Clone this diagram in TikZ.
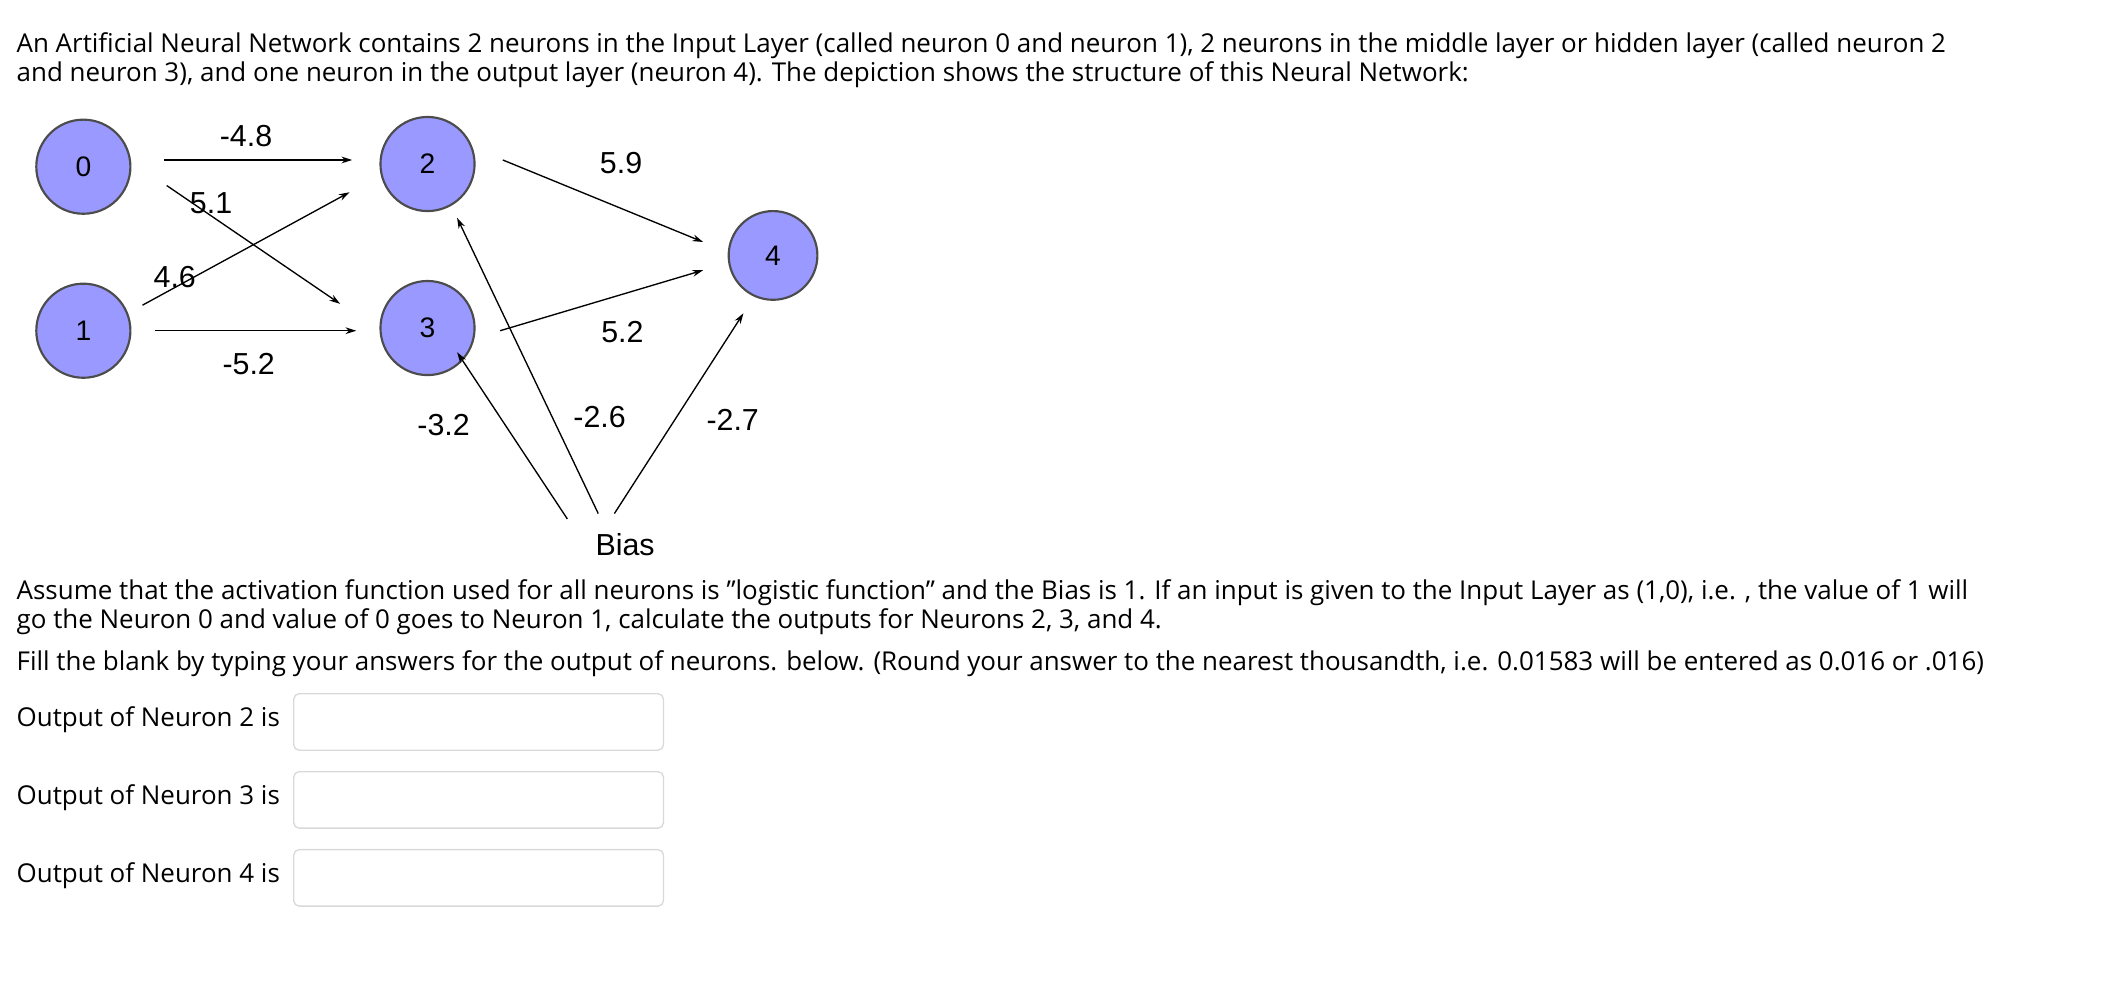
\documentclass[tikz,border=0pt]{standalone}
\usepackage{fontspec}
\setmainfont{Open Sans}
\newfontfamily\arial{Liberation Sans}
\usetikzlibrary{arrows.meta}
\begin{document}
\begin{tikzpicture}[x=0.5pt,y=-0.5pt,
  neuron/.style={circle,draw=black!70,line width=0.8pt,fill={rgb,255:red,153;green,153;blue,255},minimum size=35pt,inner sep=0pt,font=\arial\fontsize{10.5}{12}\selectfont},
  wire/.style={line width=0.5pt,-{Stealth[length=4pt,width=2.5pt]}},
  wlab/.style={font=\arial\fontsize{11.3}{13}\selectfont,inner sep=0pt},
  txt/.style={anchor=west,font=\fontsize{9.65}{10.6}\selectfont,inner sep=0pt,align=left},
  field/.style={draw=black!15,rounded corners=2pt,line width=0.5pt,minimum width=137.5pt,minimum height=21pt,anchor=west}]
\useasboundingbox (0,0) rectangle (1568,738);
\node[txt,anchor=north west] (t1) at (12,24) {An Artificial Neural Network contains 2 neurons in the Input Layer (called neuron 0 and neuron 1), 2 neurons in the middle layer or hidden layer (called neuron 2\\and neuron 3), and one neuron in the output layer (neuron 4). The depiction shows the structure of this Neural Network:};
\node[neuron] (n0) at (62,124) {0};
\node[neuron] (n1) at (62,246) {1};
\node[neuron] (n2) at (318,122) {2};
\node[neuron] (n3) at (318,244) {3};
\node[neuron,minimum size=33pt] (n4) at (575,190) {4};
\coordinate (a0) at (122,119); \coordinate (b0) at (262,119);
\coordinate (a1) at (115,246); \coordinate (b1) at (265,246);
\coordinate (a2) at (124,138); \coordinate (b2) at (253,226);
\coordinate (a3) at (106,227); \coordinate (b3) at (260,143);
\coordinate (a4) at (374,119); \coordinate (b4) at (523,180);
\coordinate (a5) at (372,246); \coordinate (b5) at (523,201);
\coordinate (c1) at (422,386); \coordinate (d1) at (340,262);
\coordinate (c2) at (445,382); \coordinate (d2) at (340,162);
\coordinate (c3) at (457,382); \coordinate (d3) at (553,233);
\draw[wire] (a0)--(b0); \draw[wire] (a1)--(b1);
\draw[wire] (a2)--(b2); \draw[wire] (a3)--(b3);
\draw[wire] (a4)--(b4); \draw[wire] (a5)--(b5);
\draw[wire] (c1)--(d1); \draw[wire] (c2)--(d2); \draw[wire] (c3)--(d3);
\node[wlab] (l1) at (183,101) {-4.8};
\node[wlab] (l2) at (157,151) {5.1};
\node[wlab] (l3) at (130,206) {4.6};
\node[wlab] (l4) at (185,271) {-5.2};
\node[wlab] (l5) at (462,121) {5.9};
\node[wlab] (l6) at (463,247) {5.2};
\node[wlab] (l7) at (330,316) {-3.2};
\node[wlab] (l8) at (446,310) {-2.6};
\node[wlab] (l9) at (545,312) {-2.7};
\node[wlab] (bias) at (465,405) {Bias};
\node[txt,anchor=north west] (t2) at (12,431) {Assume that the activation function used for all neurons is \symbol{34}logistic function\symbol{34} and the Bias is 1. If an input is given to the Input Layer as (1,0), i.e. , the value of 1 will\\go the Neuron 0 and value of 0 goes to Neuron 1, calculate the outputs for Neurons 2, 3, and 4.};
\node[txt] (t3) at (12,494) {Fill the blank by typing your answers for the output of neurons. below. (Round your answer to the nearest thousandth, i.e. 0.01583 will be entered as 0.016 or .016)};
\node[txt] (q2) at (12,535) {Output of Neuron 2 is};
\node[txt] (q3) at (12,593) {Output of Neuron 3 is};
\node[txt] (q4) at (12,651) {Output of Neuron 4 is};
\node[field] (f2) at (218,537) {};
\node[field] (f3) at (218,595) {};
\node[field] (f4) at (218,653) {};
\end{tikzpicture}
\end{document}
